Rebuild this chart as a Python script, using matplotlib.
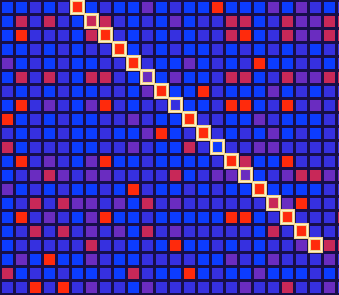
import numpy as np
import matplotlib
matplotlib.use("Agg")
import matplotlib.pyplot as plt
from matplotlib.colors import LinearSegmentedColormap
from matplotlib.patches import Rectangle

# cell levels
B, b, p, m, R = 0.0, 0.25, 0.45, 0.7, 1.0

grid_rows = [
    [B, B, b, B, b, R, B, b, B, B, p, B, b, B, B, R, B, B, B, p, B, p, b, B, b],
    [B, m, b, m, b, B, m, m, b, B, b, B, p, B, b, b, m, m, B, b, m, p, p, m, m],
    [B, R, b, b, b, B, m, R, b, B, b, B, b, B, b, b, m, R, B, b, m, p, p, m, m],
    [B, B, b, B, b, B, b, b, R, B, b, B, b, B, B, b, B, b, B, b, B, b, B, b, b],
    [p, B, b, B, b, B, B, b, b, R, b, B, B, p, B, b, B, b, R, B, B, b, b, B, b],
    [B, m, b, m, b, B, m, m, b, B, p, B, p, B, B, b, m, m, B, b, m, p, p, m, m],
    [b, B, b, B, b, B, B, b, b, B, p, R, B, B, R, b, B, B, B, p, B, b, B, b, b],
    [B, R, b, p, b, B, p, R, b, B, b, b, b, B, B, b, R, R, B, b, R, b, p, b, m],
    [R, B, b, B, b, B, B, b, b, p, b, B, B, R, b, b, B, B, p, b, B, B, B, b, b],
    [b, B, b, B, b, B, B, b, B, B, p, R, B, b, R, b, B, b, B, p, B, b, B, b, b],
    [m, B, b, b, b, B, B, b, b, p, b, B, B, m, b, B, b, b, p, p, b, b, b, b, b],
    [B, R, b, p, b, B, p, R, B, B, b, B, B, B, B, b, R, m, B, B, R, b, b, b, b],
    [B, b, p, m, p, b, p, p, b, b, b, b, m, B, b, p, p, p, B, b, p, m, m, p, p],
    [p, B, b, B, b, B, B, b, B, R, b, B, B, b, B, b, B, B, R, B, B, B, B, b, b],
    [B, b, m, b, m, p, p, b, p, B, m, b, p, b, b, b, b, b, b, m, p, R, b, b, b],
    [B, R, b, p, b, B, p, R, B, B, b, B, B, B, B, B, R, R, B, b, R, b, b, b, m],
    [B, b, m, b, m, b, p, b, p, B, m, b, p, b, b, b, b, b, B, m, b, R, b, b, b],
    [B, b, b, b, b, b, m, b, b, B, b, B, R, B, B, b, B, b, B, b, b, p, R, m, m],
    [B, p, B, R, B, B, p, b, B, B, b, b, b, b, B, B, p, b, B, p, b, b, b, p, b],
    [m, B, b, B, b, B, B, b, B, m, b, B, B, R, B, b, B, B, p, B, B, B, b, B, b],
    [b, b, R, b, R, b, p, b, b, B, p, b, b, b, b, b, b, p, b, b, m, b, b, p, b],
]

# highlighted diagonal cells (row, col)
diag_rows = list(range(18))
diag_cols = [r + 5 for r in diag_rows]

values = np.array(grid_rows)
n_rows, n_cols = values.shape

cmap = LinearSegmentedColormap.from_list(
    "bluered",
    [(0.0, "#0c3cff"), (0.25, "#3630e0"), (0.45, "#6a2cc0"),
     (0.7, "#c82858"), (1.0, "#ff2a0c")])

fig = plt.figure(figsize=(3.39, 2.95), dpi=100)
ax = fig.add_axes([0, 0, 1, 1])
ax.pcolormesh(np.arange(n_cols + 1), np.arange(n_rows + 1), values,
              cmap=cmap, vmin=0, vmax=1,
              edgecolors="#180f48", linewidth=0.8)

for r, c in zip(diag_rows, diag_cols):
    ax.add_patch(Rectangle((c + 0.06, r + 0.06), 0.88, 0.88, fill=False,
                           edgecolor="#f2d48a", linewidth=2.2))
    ax.add_patch(Rectangle((c + 0.06, r + 0.06), 0.88, 0.88, fill=False,
                           edgecolor="#fff6dc", linewidth=0.6))

ax.set_xlim(0, 339 / 14)
ax.set_ylim(295.5 / 14, 0.5 / 14)
ax.axis("off")

fig.savefig("out.png", dpi=100)
